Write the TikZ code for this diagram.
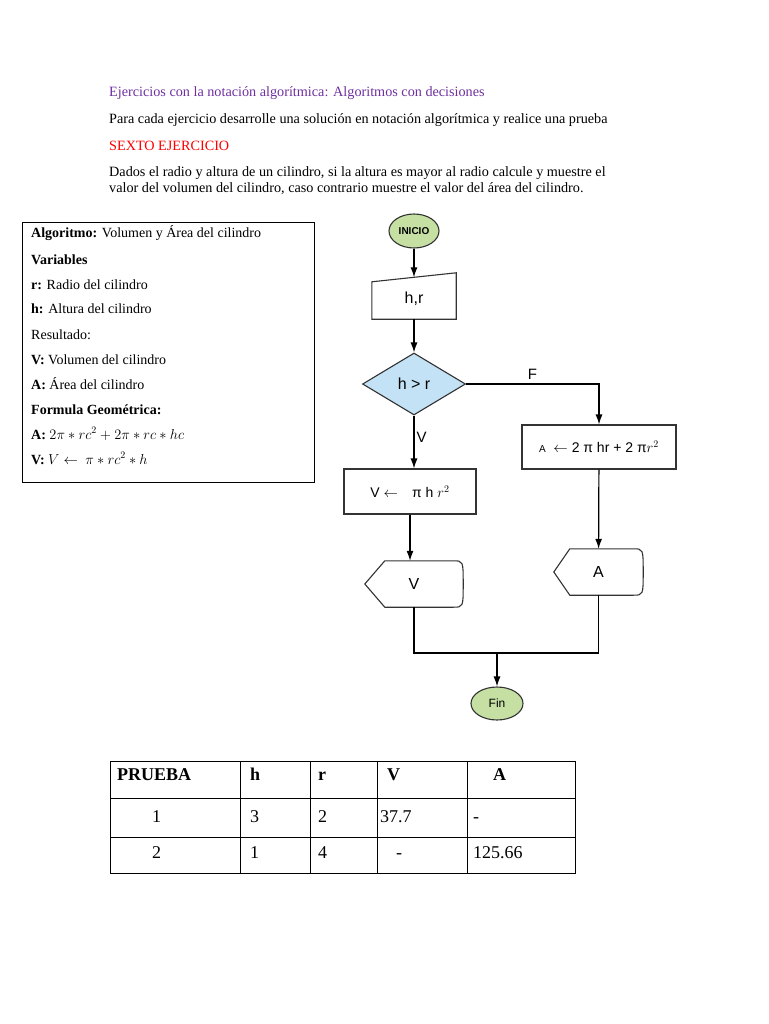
\documentclass[tikz,border=0pt]{standalone}
\usepackage{fontspec}
\setmainfont{Liberation Serif}
\newfontfamily\flowfont{Liberation Sans}
\usetikzlibrary{shapes.geometric,arrows.meta,positioning}
\definecolor{titlepurple}{HTML}{7030A0}
\definecolor{termgreen}{HTML}{C6E0A4}
\definecolor{decblue}{HTML}{C4E2F5}
\definecolor{shapeline}{HTML}{333333}
\begin{document}
\begin{tikzpicture}[x=1pt,y=-1pt,%
% plain lines of text:
txt/.style = {anchor=base west, inner sep=0, font=\fontsize{14.2}{16}\selectfont},
boxtxt/.style = {anchor=base west, inner sep=0, font=\fontsize{14}{16}\selectfont},
celltxt/.style = {anchor=base west, inner sep=0, font=\fontsize{18}{20}\selectfont},
% common options for the flowchart:
term/.style = {ellipse, draw=shapeline, fill=termgreen, line width=1.1pt,
            inner sep=0, font=\flowfont\fontsize{10.5}{12}\selectfont},
proc/.style = {rectangle, draw=shapeline, line width=1.1pt, inner sep=0,
            font=\flowfont\fontsize{14}{16}\selectfont},
ghost/.style = {rectangle, inner sep=0, font=\flowfont\fontsize{16}{18}\selectfont},
outline/.style = {draw=shapeline, line width=1.1pt},
flow/.style = {-{Latex[length=10pt,width=7pt]}, line width=1.2pt},
lbl/.style = {font=\flowfont\fontsize{15}{17}\selectfont, inner sep=2pt}]
\fill[white] (0,0) rectangle (768,1024);
\useasboundingbox (0,0) rectangle (768,1024);
% heading
\node[txt, text=titlepurple] (title) at (109,97) {Ejercicios con la notación algorítmica: Algoritmos con decisiones};
\node[txt] (task) at (109,124) {Para cada ejercicio desarrolle una solución en notación algorítmica y realice una prueba};
\node[txt, text=red] (num) at (109,151) {SEXTO EJERCICIO};
\node[txt] (stmt1) at (109,177) {Dados el radio y altura de un cilindro, si la altura es mayor al radio calcule y muestre el};
\node[txt] (stmt2) at (109,193) {valor del volumen del cilindro, caso contrario muestre el valor del área del cilindro.};
% algorithm box
\node[draw, line width=0.9pt, minimum width=292, minimum height=260, anchor=north west] (algbox) at (22,222) {};
\node[boxtxt] (alg) at (31,237) {\textbf{Algoritmo:} Volumen y Área del cilindro};
\node[boxtxt] (vars) at (31,264) {\textbf{Variables}};
\node[boxtxt] (varr) at (31,289) {\textbf{r:} Radio del cilindro};
\node[boxtxt] (varh) at (31,313) {\textbf{h:} Altura del cilindro};
\node[boxtxt] (res) at (31,339) {Resultado:};
\node[boxtxt] (resv) at (31,364) {\textbf{V:} Volumen del cilindro};
\node[boxtxt] (resa) at (31,389) {\textbf{A:} Área del cilindro};
\node[boxtxt] (form) at (31,414) {\textbf{Formula Geométrica:}};
\node[boxtxt] (forma) at (31,439) {\textbf{A:} $2\pi * rc^2 + 2\pi * rc * hc$};
\node[boxtxt] (formv) at (31,464) {\textbf{V:} $V \leftarrow\ \pi * rc^2 * h$};
% flowchart
\node[term, minimum width=50, minimum height=34, font=\flowfont\bfseries\fontsize{10}{12}\selectfont] (ini) at (414,231) {INICIO};
\node[ghost, minimum width=84, minimum height=41.5] (hr) at (414,298.25) {h,r};
\draw[outline] (hr.south west) -- ([yshift=-4.5pt]hr.north west) -- ([yshift=4.5pt]hr.north east) -- (hr.south east) -- cycle;
\node[diamond, draw=shapeline, fill=decblue, line width=1.1pt, inner sep=0, aspect=1.66,
      minimum width=103, minimum height=62, font=\flowfont\fontsize{16}{18}\selectfont] (cond) at (414,384) {h > r};
\node[proc, minimum width=154, minimum height=44] (areabox) at (599,447)
      {{\fontsize{10}{12}\selectfont A}\ \ $\leftarrow$ 2 π hr + 2 π$r^2$};
\node[proc, minimum width=132, minimum height=45] (volbox) at (410,491.5)
      {V $\leftarrow$\quad π h $r^2$};
\node[ghost, minimum width=98, minimum height=46] (vout) at (414,584) {V};
\draw[outline] (vout.west) -- ([xshift=20pt]vout.north west) -- ([xshift=-10pt]vout.north east)
      .. controls (vout.north east) .. (vout.east) .. controls (vout.south east) .. ([xshift=-10pt]vout.south east)
      -- ([xshift=20pt]vout.south west) -- cycle;
\node[ghost, minimum width=89, minimum height=46] (aout) at (598.5,572) {A};
\draw[outline] (aout.west) -- ([xshift=16pt]aout.north west) -- ([xshift=-10pt]aout.north east)
      .. controls (aout.north east) .. (aout.east) .. controls (aout.south east) .. ([xshift=-10pt]aout.south east)
      -- ([xshift=16pt]aout.south west) -- cycle;
\node[term, minimum width=52, minimum height=33, font=\flowfont\fontsize{12}{14}\selectfont] (fin) at (497,703.5) {Fin};
\coordinate (merge) at (497,653);
\draw[flow] (ini) -- (hr);
\draw[flow] (hr) -- (cond);
\draw[flow] (cond.east) -| (areabox.north) node[lbl, pos=0.25, above=2pt] {F};
\draw[flow] (cond.south) -- (cond.south |- volbox.north) node[lbl, pos=0.42, right] {V};
\draw[flow] (volbox.south) -- (volbox.south |- vout.north);
\draw[flow] (areabox) -- (aout);
\draw[line width=1.2pt] (vout.south) |- (merge) -| (aout.south);
\draw[flow] (merge) -- (fin);
% test table
\node[draw, line width=0.9pt, minimum width=465, minimum height=112, anchor=north west, inner sep=0] (tbl) at (110,761) {};
\foreach \cx in {240,310,377,467}
  \draw[line width=0.9pt] (\cx,761) -- (\cx,873);
\foreach \ry in {798,837}
  \draw[line width=0.9pt] (110,\ry) -- (575,\ry);
\foreach \cx/\hd in {117/PRUEBA,250/h,318/r,387/V,493/A}
  \node[celltxt, font=\fontsize{18}{20}\selectfont\bfseries] at (\cx,780) {\hd};
\foreach \cx/\cv in {152/1,250/3,318/2,380/37.7,473/-}
  \node[celltxt] at (\cx,822) {\cv};
\foreach \cx/\cv in {152/2,250/1,318/4,396/-,473/125.66}
  \node[celltxt] at (\cx,858) {\cv};
\end{tikzpicture}
\end{document}
